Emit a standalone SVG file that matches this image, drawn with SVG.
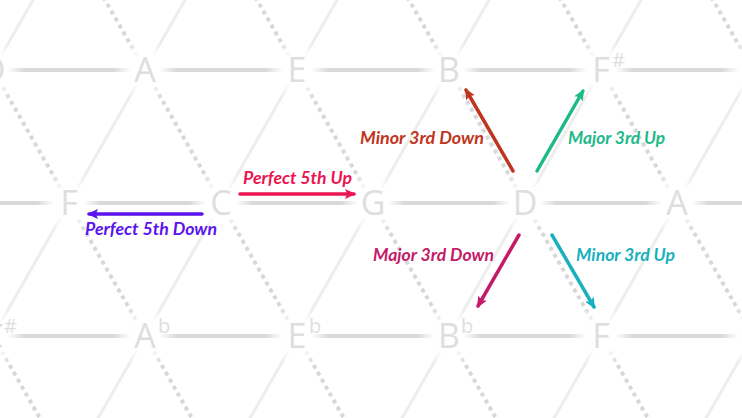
<svg xmlns="http://www.w3.org/2000/svg" width="742" height="418" viewBox="0 0 742 418">
<style>
.h{stroke:#d9d9d9;stroke-width:4;fill:none}
.s{stroke:#ededed;stroke-width:3;fill:none}
.d{stroke:#d8d8d8;stroke-width:4;stroke-dasharray:4 4;fill:none}
.n{font-family:"Open Sans","DejaVu Sans",sans-serif;font-weight:400;font-size:34px;fill:#dedede;text-anchor:middle}
.acc{font-family:"Open Sans","DejaVu Sans",sans-serif;font-weight:400;font-size:20px;fill:#dedede}
.lbl{font-family:Lato,"Open Sans",sans-serif;font-weight:700;font-style:italic;font-size:16.5px}
.ar{stroke-width:3.5;stroke-linecap:round;fill:none}
</style>
<defs>
<radialGradient id="fade">
<stop offset="0" stop-color="#fff" stop-opacity="1"/>
<stop offset="0.45" stop-color="#fff" stop-opacity="1"/>
<stop offset="1" stop-color="#fff" stop-opacity="0"/>
</radialGradient>
<marker id="m1" viewBox="0 0 10 10" refX="8.2" refY="5" markerWidth="11" markerHeight="11" markerUnits="userSpaceOnUse" orient="auto"><path d="M0,0.5 L10,5 L0,9.5 L2,5 z" fill="#ea1551"/></marker>
<marker id="m2" viewBox="0 0 10 10" refX="8.2" refY="5" markerWidth="11" markerHeight="11" markerUnits="userSpaceOnUse" orient="auto"><path d="M0,0.5 L10,5 L0,9.5 L2,5 z" fill="#5a14ee"/></marker>
<marker id="m3" viewBox="0 0 10 10" refX="8.2" refY="5" markerWidth="11" markerHeight="11" markerUnits="userSpaceOnUse" orient="auto"><path d="M0,0.5 L10,5 L0,9.5 L2,5 z" fill="#bf3520"/></marker>
<marker id="m4" viewBox="0 0 10 10" refX="8.2" refY="5" markerWidth="11" markerHeight="11" markerUnits="userSpaceOnUse" orient="auto"><path d="M0,0.5 L10,5 L0,9.5 L2,5 z" fill="#1eb98a"/></marker>
<marker id="m5" viewBox="0 0 10 10" refX="8.2" refY="5" markerWidth="11" markerHeight="11" markerUnits="userSpaceOnUse" orient="auto"><path d="M0,0.5 L10,5 L0,9.5 L2,5 z" fill="#c41b68"/></marker>
<marker id="m6" viewBox="0 0 10 10" refX="8.2" refY="5" markerWidth="11" markerHeight="11" markerUnits="userSpaceOnUse" orient="auto"><path d="M0,0.5 L10,5 L0,9.5 L2,5 z" fill="#1ab0bd"/></marker>
</defs>
<rect width="742" height="418" fill="#fff"/>
<g id="grid">
<line class="h" x1="-10" y1="70" x2="752" y2="70"/>
<line class="h" x1="-10" y1="203" x2="752" y2="203"/>
<line class="h" x1="-10" y1="336" x2="752" y2="336"/>
<line class="s" x1="38.7" y1="-10" x2="-212.7" y2="430"/>
<line class="s" x1="190.7" y1="-10" x2="-60.7" y2="430"/>
<line class="s" x1="342.7" y1="-10" x2="91.3" y2="430"/>
<line class="s" x1="494.7" y1="-10" x2="243.3" y2="430"/>
<line class="s" x1="646.7" y1="-10" x2="395.3" y2="430"/>
<line class="s" x1="798.7" y1="-10" x2="547.3" y2="430"/>
<line class="s" x1="950.7" y1="-10" x2="699.3" y2="430"/>
<line class="d" x1="-204.7" y1="-10" x2="46.7" y2="430"/>
<line class="d" x1="-52.7" y1="-10" x2="198.7" y2="430"/>
<line class="d" x1="99.3" y1="-10" x2="350.7" y2="430"/>
<line class="d" x1="251.3" y1="-10" x2="502.7" y2="430"/>
<line class="d" x1="403.3" y1="-10" x2="654.7" y2="430"/>
<line class="d" x1="555.3" y1="-10" x2="806.7" y2="430"/>
<line class="d" x1="707.3" y1="-10" x2="958.7" y2="430"/>
</g>
<g id="n-D-top"><circle cx="-7" cy="70" r="32" fill="url(#fade)"/><text class="n" x="-7" y="82">D</text></g>
<g id="n-A-top"><circle cx="145" cy="70" r="32" fill="url(#fade)"/><text class="n" x="145" y="82">A</text></g>
<g id="n-E-top"><circle cx="297" cy="70" r="32" fill="url(#fade)"/><text class="n" x="297" y="82">E</text></g>
<g id="n-B-top"><circle cx="449" cy="70" r="32" fill="url(#fade)"/><text class="n" x="449" y="82">B</text></g>
<g id="n-Fs-top"><circle cx="601" cy="70" r="32" fill="url(#fade)"/><text class="n" x="601" y="82">F</text><text class="acc" x="612" y="67">#</text></g>
<g id="n-Cs-top"><circle cx="753" cy="70" r="32" fill="url(#fade)"/><text class="n" x="753" y="82">C</text><text class="acc" x="764" y="67">#</text></g>
<g id="n-F-mid"><circle cx="69" cy="203" r="32" fill="url(#fade)"/><text class="n" x="69" y="215">F</text></g>
<g id="n-C-mid"><circle cx="221" cy="203" r="32" fill="url(#fade)"/><text class="n" x="221" y="215">C</text></g>
<g id="n-G-mid"><circle cx="373" cy="203" r="32" fill="url(#fade)"/><text class="n" x="373" y="215">G</text></g>
<g id="n-D-mid"><circle cx="525" cy="203" r="32" fill="url(#fade)"/><text class="n" x="525" y="215">D</text></g>
<g id="n-A-mid"><circle cx="677" cy="203" r="32" fill="url(#fade)"/><text class="n" x="677" y="215">A</text></g>
<g id="n-Cs-bot"><circle cx="-7" cy="336" r="32" fill="url(#fade)"/><text class="n" x="-7" y="348">C</text><text class="acc" x="4" y="333">#</text></g>
<g id="n-Ab-bot"><circle cx="145" cy="336" r="32" fill="url(#fade)"/><text class="n" x="145" y="348">A</text><text class="acc" x="158" y="333">b</text></g>
<g id="n-Eb-bot"><circle cx="297" cy="336" r="32" fill="url(#fade)"/><text class="n" x="297" y="348">E</text><text class="acc" x="309" y="333">b</text></g>
<g id="n-Bb-bot"><circle cx="449" cy="336" r="32" fill="url(#fade)"/><text class="n" x="449" y="348">B</text><text class="acc" x="461" y="333">b</text></g>
<g id="n-F-bot"><circle cx="601" cy="336" r="32" fill="url(#fade)"/><text class="n" x="601" y="348">F</text></g>
<g id="n-C-bot"><circle cx="753" cy="336" r="32" fill="url(#fade)"/><text class="n" x="753" y="348">C</text></g>
<g id="connectors">
<line class="ar" stroke="#ea1551" x1="240" y1="194" x2="354" y2="194" marker-end="url(#m1)"/>
<text class="lbl" fill="#ea1551" x="243" y="184" textLength="109" lengthAdjust="spacingAndGlyphs">Perfect 5th Up</text>
<line class="ar" stroke="#5a14ee" x1="202" y1="214" x2="89" y2="214" marker-end="url(#m2)"/>
<text class="lbl" fill="#5a14ee" x="85" y="235" textLength="132" lengthAdjust="spacingAndGlyphs">Perfect 5th Down</text>
<line class="ar" stroke="#bf3520" x1="513" y1="171" x2="466" y2="90" marker-end="url(#m3)"/>
<text class="lbl" fill="#bf3520" x="360" y="144" textLength="124" lengthAdjust="spacingAndGlyphs">Minor 3rd Down</text>
<line class="ar" stroke="#1eb98a" x1="537" y1="171" x2="583" y2="91" marker-end="url(#m4)"/>
<text class="lbl" fill="#1eb98a" x="568" y="144" textLength="97" lengthAdjust="spacingAndGlyphs">Major 3rd Up</text>
<line class="ar" stroke="#c41b68" x1="519" y1="235" x2="478" y2="306" marker-end="url(#m5)"/>
<text class="lbl" fill="#c41b68" x="373" y="261" textLength="121" lengthAdjust="spacingAndGlyphs">Major 3rd Down</text>
<line class="ar" stroke="#1ab0bd" x1="552" y1="235" x2="594" y2="307" marker-end="url(#m6)"/>
<text class="lbl" fill="#1ab0bd" x="576" y="261" textLength="99" lengthAdjust="spacingAndGlyphs">Minor 3rd Up</text>
</g>
</svg>
